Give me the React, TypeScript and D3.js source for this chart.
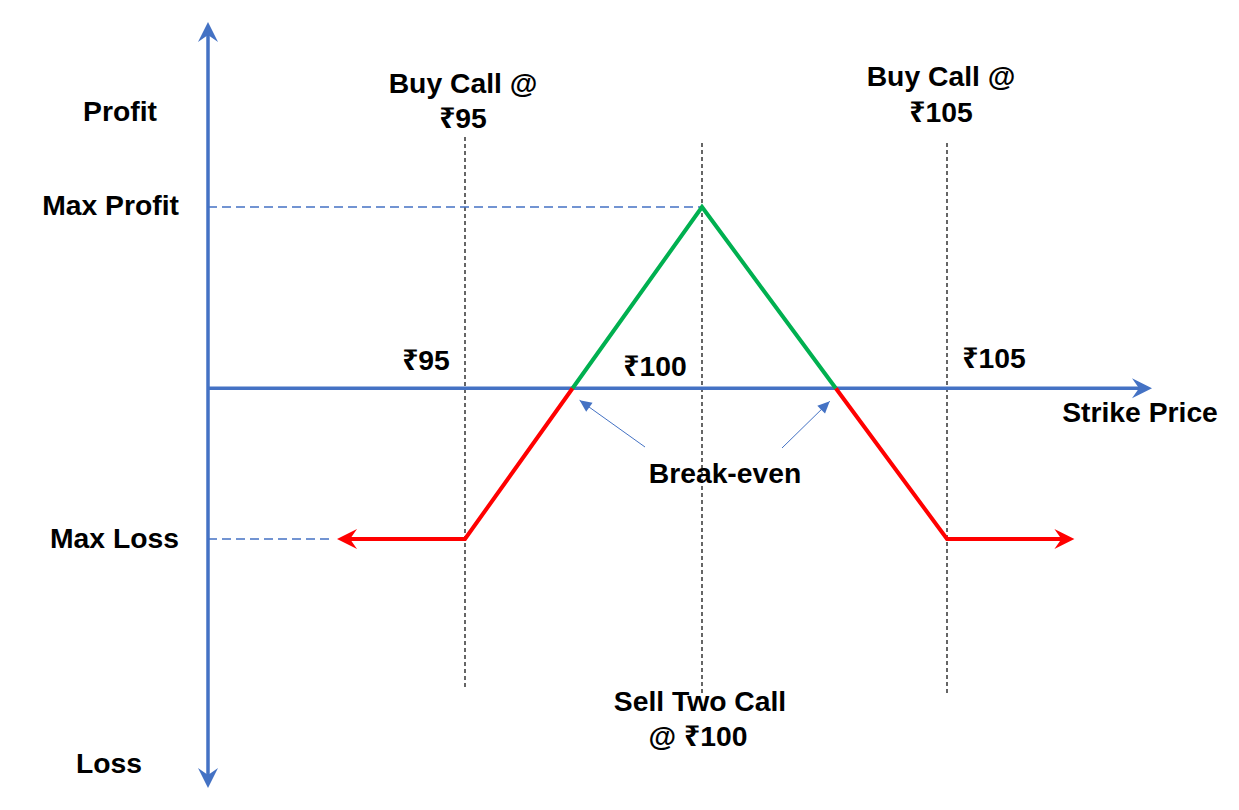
import React from "react";
import * as d3 from "d3";

// ---- data ----
const strikes = [95, 100, 105];
const strikeLabels = ["₹95", "₹100", "₹105"];
const breakEvens = [97.27, 102.73];
const maxProfit = 2.73;
const maxLoss = -2.27;
const payoffPrices = [92.3, 95, 97.27, 100, 102.73, 105, 107.6];
const payoffValues = [-2.27, -2.27, 0, 2.73, 0, -2.27, -2.27];
const buyLabels = ["Buy Call @", "₹95", "Buy Call @", "₹105"];
const sellLabels = ["Sell Two Call", "@ ₹100"];

const W = 1239;
const H = 810;
const BLUE = "#4472C4";
const RED = "#FF0000";
const GREEN = "#00B050";
const FONT = "'Liberation Sans', Arial, 'Noto Sans', 'DejaVu Sans', sans-serif";
const FS = 28.3;

const x = d3.scaleLinear().domain(strikes).range([465, 702, 947]);
const y = d3.scaleLinear().domain([maxLoss, maxProfit]).range([539, 207]);

const axisX = 208;
const axisTop = 22;
const axisBottom = 788;
const axisRight = 1152;

// stealth arrowhead path at tip (tx,ty) pointing along direction from (fx,fy)
function arrowHead(fx: number, fy: number, tx: number, ty: number, len: number, half: number, notch: number) {
  const dx = tx - fx, dy = ty - fy;
  const d = Math.hypot(dx, dy);
  const ux = dx / d, uy = dy / d;
  const px = -uy, py = ux;
  const bx = tx - ux * len, by = ty - uy * len;
  const nx = tx - ux * (len - notch), ny = ty - uy * (len - notch);
  return `M${tx},${ty}L${bx + px * half},${by + py * half}L${nx},${ny}L${bx - px * half},${by - py * half}Z`;
}

const pts: [number, number][] = payoffPrices.map((p, i) => [x(p), y(payoffValues[i])]);
const line = d3.line();

export default function App() {
  const y0 = y(0);
  const redLeft = pts.slice(0, 3);
  const green = pts.slice(2, 5);
  const redRight = pts.slice(4, 7);
  const rl = redLeft.map((p) => [...p]) as [number, number][];
  rl[0] = [rl[0][0] + 12, rl[0][1]];
  const rr = redRight.map((p) => [...p]) as [number, number][];
  rr[rr.length - 1] = [rr[rr.length - 1][0] - 12, rr[rr.length - 1][1]];

  const vExt: [number, number][] = [[137, 689], [143, 695], [143, 695]];
  const textStyle = { fontFamily: FONT, fontSize: FS, fontWeight: 700, fill: "#000" } as const;

  const beTips = [
    { tip: [x(breakEvens[0]) + 7, y0 + 12], tail: [645, 447] },
    { tip: [x(breakEvens[1]) - 6, y0 + 13], tail: [782, 448] },
  ];

  return (
    <svg width={W} height={H} style={{ position: "absolute", left: 0, top: 0, background: "#fff" }}>
      {strikes.map((s, i) => (
        <line key={"v" + i} x1={x(s)} x2={x(s)} y1={vExt[i][0]} y2={vExt[i][1]} stroke="#000" strokeWidth={1.2} strokeDasharray="4 3" />
      ))}
      <line x1={axisX} x2={x(100)} y1={y(maxProfit)} y2={y(maxProfit)} stroke={BLUE} strokeWidth={1.7} strokeDasharray="9 5" />
      <line x1={axisX} x2={x(payoffPrices[0]) - 4} y1={y(maxLoss)} y2={y(maxLoss)} stroke={BLUE} strokeWidth={1.7} strokeDasharray="9 5" />

      <line x1={axisX} x2={axisX} y1={axisTop + 10} y2={axisBottom - 10} stroke={BLUE} strokeWidth={3.5} />
      <path d={arrowHead(axisX, axisTop + 50, axisX, axisTop, 20, 10, 7)} fill={BLUE} />
      <path d={arrowHead(axisX, axisBottom - 50, axisX, axisBottom, 20, 10, 7)} fill={BLUE} />
      <line x1={axisX} x2={axisRight - 10} y1={y0} y2={y0} stroke={BLUE} strokeWidth={3.5} />
      <path d={arrowHead(axisRight - 50, y0, axisRight, y0, 20, 10, 7)} fill={BLUE} />

      <path d={line(rl) || ""} fill="none" stroke={RED} strokeWidth={4} strokeLinejoin="miter" />
      <path d={line(rr) || ""} fill="none" stroke={RED} strokeWidth={4} strokeLinejoin="miter" />
      <path d={line(green) || ""} fill="none" stroke={GREEN} strokeWidth={4} strokeLinejoin="miter" />
      <path d={arrowHead(pts[1][0], pts[1][1], pts[0][0], pts[0][1], 20, 10, 7)} fill={RED} />
      <path d={arrowHead(pts[5][0], pts[5][1], pts[6][0], pts[6][1], 20, 10, 7)} fill={RED} />

      {beTips.map((b, i) => (
        <g key={"be" + i}>
          <line x1={b.tail[0]} y1={b.tail[1]} x2={b.tip[0]} y2={b.tip[1]} stroke={BLUE} strokeWidth={1} />
          <path d={arrowHead(b.tail[0], b.tail[1], b.tip[0], b.tip[1], 12, 5.5, 0)} fill={BLUE} />
        </g>
      ))}

      <text x={120} y={121} textAnchor="middle" style={textStyle}>Profit</text>
      <text x={179} y={y(maxProfit) + 8} textAnchor="end" style={textStyle}>Max Profit</text>
      <text x={179} y={y(maxLoss) + 9} textAnchor="end" style={textStyle}>Max Loss</text>
      <text x={109} y={773} textAnchor="middle" style={textStyle}>Loss</text>

      <text x={x(strikes[0]) - 2} y={93} textAnchor="middle" style={textStyle}>{buyLabels[0]}</text>
      <text x={x(strikes[0]) - 2} y={128} textAnchor="middle" style={textStyle}>{buyLabels[1]}</text>
      <text x={x(strikes[2]) - 6} y={86} textAnchor="middle" style={textStyle}>{buyLabels[2]}</text>
      <text x={x(strikes[2]) - 6} y={122} textAnchor="middle" style={textStyle}>{buyLabels[3]}</text>

      <text x={x(strikes[0]) - 39} y={370} textAnchor="middle" style={textStyle}>{strikeLabels[0]}</text>
      <text x={x(strikes[1]) - 47} y={376} textAnchor="middle" style={textStyle}>{strikeLabels[1]}</text>
      <text x={x(strikes[2]) + 47} y={368} textAnchor="middle" style={textStyle}>{strikeLabels[2]}</text>

      <text x={1140} y={422} textAnchor="middle" style={textStyle}>Strike Price</text>
      <text x={725} y={483} textAnchor="middle" style={textStyle}>Break-even</text>
      <text x={700} y={711} textAnchor="middle" style={textStyle}>{sellLabels[0]}</text>
      <text x={698} y={746} textAnchor="middle" style={textStyle}>{sellLabels[1]}</text>
    </svg>
  );
}
